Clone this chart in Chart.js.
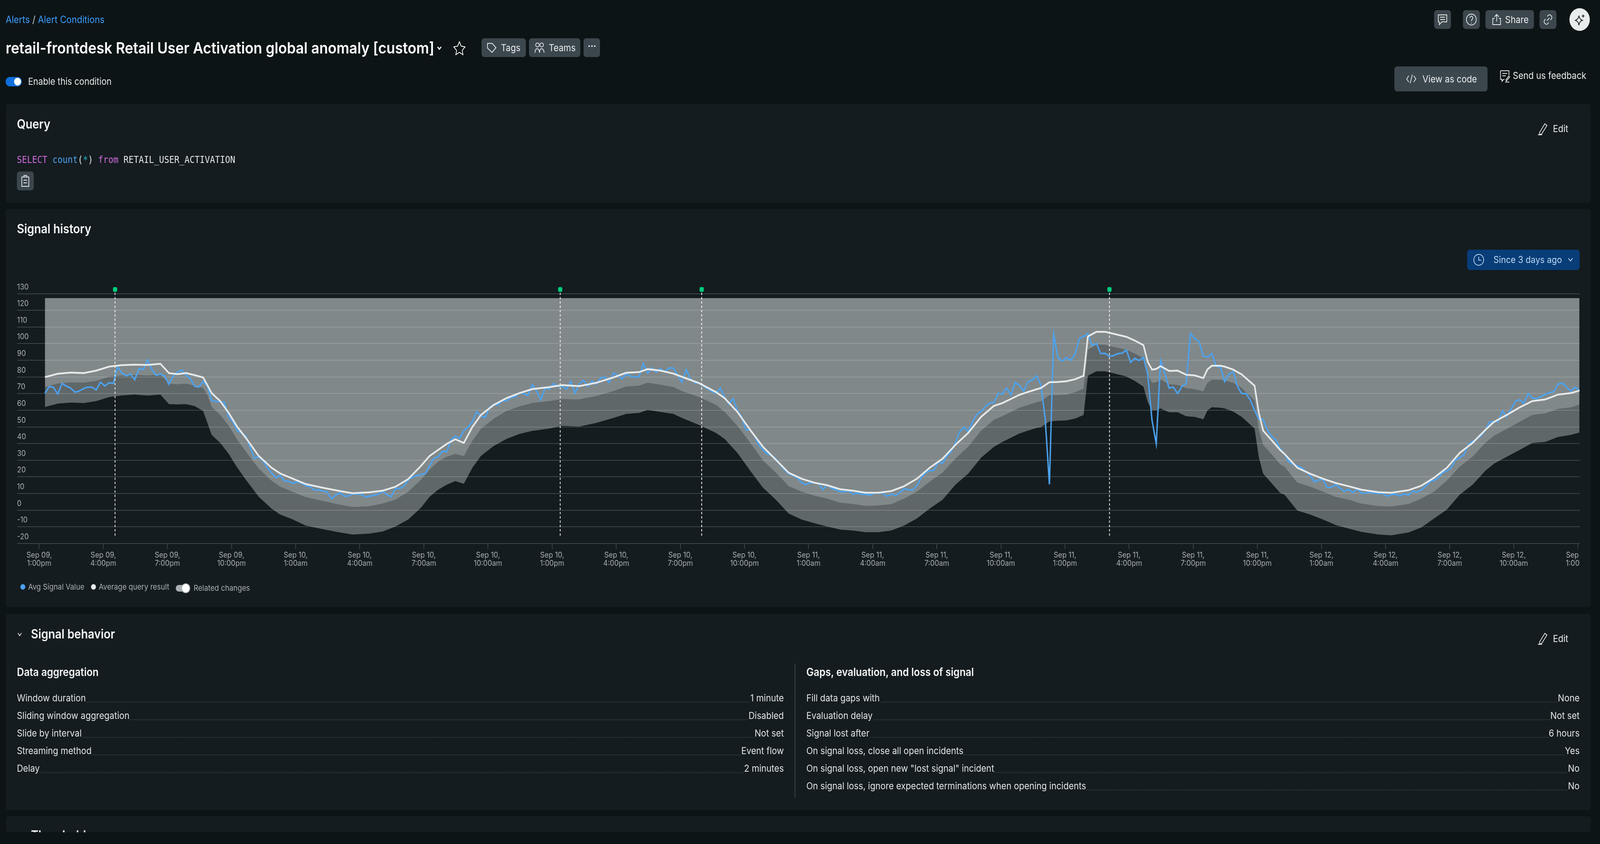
<!DOCTYPE html>
<html>
<head>
<meta charset="utf-8">
<title>Signal history</title>
<script src="https://cdn.jsdelivr.net/npm/chart.js@4"></script>
<style>
html, body { margin: 0; padding: 0; width: 100%; height: 100%; overflow: hidden; background: #0d1415; font-family: Inter, sans-serif; color: #e4e7e8; }
#stage { position: absolute; left: 0; top: 0; width: 4552px; height: 2160px; transform-origin: 0 0; }
.a { position: absolute; white-space: nowrap; line-height: 1; }
.panel { position: absolute; left: 16px; width: 4510px; background: #141c1f; border-radius: 8px; overflow: hidden; }
.btn { position: absolute; background: #3c474d; border-radius: 8px; }
.h { font-weight: 600; color: #f5f6f6; }
.row { position: absolute; display: flex; align-items: baseline; font-size: 24.5px; color: #dfe3e4; line-height: 1; height: 26px; }
.row i { flex: 1; border-bottom: 2px dotted #3a4448; height: 19px; margin: 0 1px; transform: translateY(3px); }
svg { position: absolute; fill: none; stroke: currentColor; stroke-width: 2; }
</style>
</head>
<body>
<div id="stage">

<div class="a" style="left:16px;top:38px;font-size:25px;color:#3a9bfb">Alerts <span style="color:#c8cdcf">/</span> Alert Conditions</div>
<div class="a" style="left:16px;top:103px;font-size:40.2px;font-weight:600;color:#fff">retail-frontdesk Retail User Activation global anomaly [custom]</div>
<svg style="left:1241px;top:114px;color:#fff" width="18" height="18" viewBox="0 0 18 18"><path d="M4 6l5 6 5-6" stroke-width="3"/></svg>
<svg style="left:1288px;top:104px;color:#fff" width="38" height="38" viewBox="0 0 38 38"><path d="M19 3l5 11 11 2-8 9 2 11-10-6-10 6 2-11-8-9 11-2z"/></svg>

<div class="btn" style="left:1370px;top:98px;width:126px;height:48px"></div>
<svg style="left:1384px;top:107px;color:#e8ebec" width="30" height="30" viewBox="0 0 30 30"><path d="M3 4h13l11 11-11 12L3 16z"/></svg>
<div class="a" style="left:1425px;top:110px;font-size:24.5px;color:#e8ebec">Tags</div>
<div class="btn" style="left:1505px;top:98px;width:146px;height:48px"></div>
<svg style="left:1519px;top:107px;color:#e8ebec" width="32" height="30" viewBox="0 0 32 30"><circle cx="10" cy="8" r="5"/><circle cx="22" cy="8" r="5"/><path d="M3 28c0-14 12-14 13 0M16 28c0-14 12-14 13 0"/></svg>
<div class="a" style="left:1561px;top:110px;font-size:24.5px;color:#e8ebec">Teams</div>
<div class="btn" style="left:1660px;top:98px;width:47px;height:48px"></div>
<div class="a" style="left:1672px;top:106px;font-size:24px;color:#e8ebec;font-weight:700">···</div>

<div class="a" style="left:16px;top:197px;width:46px;height:24px;border-radius:12px;background:#0f6fdc"></div>
<div class="a" style="left:40px;top:199px;width:20px;height:20px;border-radius:10px;background:#fff"></div>
<div class="a" style="left:80px;top:197px;font-size:24.2px;color:#e4e7e8">Enable this condition</div>

<div class="btn" style="left:4080px;top:26px;width:48px;height:48px"></div>
<svg style="left:4089px;top:35px;color:#e8ebec" width="30" height="30" viewBox="0 0 30 30"><path d="M3 3h24v18H13l-7 7v-7H3zM8 9h14M8 15h14"/></svg>
<div class="btn" style="left:4162px;top:26px;width:48px;height:48px"></div>
<svg style="left:4170px;top:34px;color:#e8ebec" width="32" height="32" viewBox="0 0 32 32"><circle cx="16" cy="16" r="14"/><path d="M12 12c0-6 8-6 8 0 0 4-4 4-4 8M16 24v2"/></svg>
<div class="btn" style="left:4226px;top:26px;width:138px;height:48px"></div>
<svg style="left:4244px;top:35px;color:#e8ebec" width="28" height="30" viewBox="0 0 28 30"><path d="M8 12H3v16h22V12h-5M14 20V2M8 8l6-6 6 6"/></svg>
<div class="a" style="left:4282px;top:38px;font-size:24.5px;color:#e8ebec">Share</div>
<div class="btn" style="left:4380px;top:26px;width:48px;height:48px"></div>
<svg style="left:4389px;top:35px;color:#e8ebec" width="30" height="30" viewBox="0 0 30 30"><path d="M12 18l7-7M13 7l3-3c5-4 13 4 9 9l-3 3M17 23l-3 3c-5 4-13-4-9-9l3-3"/></svg>
<div class="a" style="left:4465px;top:21px;width:58px;height:58px;border-radius:29px;background:#e8eced"></div>
<svg style="left:4478px;top:35px;color:#141c1f" width="32" height="32" viewBox="0 0 32 32"><path d="M14 5c1 7 4 10 10 12-6 2-9 5-10 13-1-8-4-11-10-13 6-2 9-5 10-12zM26 2v8M22 6h8"/></svg>

<div class="btn" style="left:3967px;top:170px;width:265px;height:64px"></div>
<svg style="left:4000px;top:188px;color:#e8ebec" width="30" height="28" viewBox="0 0 30 28"><path d="M8 6L2 14l6 8M22 6l6 8-6 8M18 3l-6 22"/></svg>
<div class="a" style="left:4047px;top:190px;font-size:24.5px;color:#e8ebec">View as code</div>
<svg style="left:4266px;top:179px;color:#e8ebec" width="32" height="32" viewBox="0 0 32 32"><path d="M3 2h24v12M3 2v22h4v5l5-5h2M8 9h14M8 15h10M20 28l9-10-3-2-8 10zM16 31h12"/></svg>
<div class="a" style="left:4304px;top:181px;font-size:24.5px;color:#e8ebec">Send us feedback</div>

<!-- Query -->
<div class="panel" style="top:266px;height:253px"></div>
<div class="a h" style="left:48px;top:302px;font-size:32px">Query</div>
<div class="a" style="left:48px;top:397px;font-family:'DejaVu Sans Mono',monospace;font-size:24px;color:#e4e7e8"><span style="color:#d36be0">SELECT</span> <span style="color:#4ca3f0">count</span>(<span style="color:#1fb7c2">*</span>) <span style="color:#d36be0">from</span> RETAIL_USER_ACTIVATION</div>
<div class="btn" style="left:48px;top:439px;width:48px;height:48px"></div>
<svg style="left:58px;top:447px;color:#e8ebec" width="28" height="32" viewBox="0 0 28 32"><path d="M4 6h20v24H4zM10 6V2h8v4M9 14h10M9 21h10"/></svg>
<svg style="left:4375px;top:314px;color:#e8ebec" width="30" height="32" viewBox="0 0 30 32"><path d="M5 25L20 3l6 4-15 22-6 1zM0 31h12"/></svg>
<div class="a" style="left:4418px;top:317px;font-size:24.5px;color:#e8ebec">Edit</div>

<!-- Signal history -->
<div class="panel" style="top:535px;height:1018px"></div>
<div class="a h" style="left:48px;top:570px;font-size:32px">Signal history</div>
<div class="btn" style="left:4174px;top:639px;width:320px;height:52px;background:#083d78"></div>
<svg style="left:4191px;top:649px;color:#b9d6f2" width="32" height="32" viewBox="0 0 32 32"><circle cx="16" cy="16" r="14"/><path d="M16 8v9h7"/></svg>
<div class="a" style="left:4249px;top:653px;font-size:24px;color:#b9d6f2">Since 3 days ago</div>
<svg style="left:4460px;top:658px;color:#b9d6f2" width="16" height="14" viewBox="0 0 16 14"><path d="M2 3l6 7 6-7"/></svg>

<canvas id="signalChart" width="4494" height="781" style="position:absolute;left:0;top:700px;width:4494px;height:781px"></canvas>

<div class="a" style="left:58px;top:1495px;width:14px;height:14px;border-radius:7px;background:#4ca3f0"></div>
<div class="a" style="left:80px;top:1492px;font-size:20.4px;color:#a9afb2">Avg Signal Value</div>
<div class="a" style="left:259px;top:1495px;width:14px;height:14px;border-radius:7px;background:#e8eced"></div>
<div class="a" style="left:281px;top:1492px;font-size:20.4px;color:#a9afb2">Average query result</div>
<div class="a" style="left:500px;top:1497px;width:30px;height:17px;border-radius:9px;background:#a9afb2"></div>
<div class="a" style="left:516px;top:1493px;width:21px;height:21px;border-radius:12px;background:#fff;border:2px solid #a9afb2"></div>
<div class="a" style="left:551px;top:1495px;font-size:20.4px;color:#a9afb2">Related changes</div>

<!-- Signal behavior -->
<div class="panel" style="top:1571px;height:502px"></div>
<svg style="left:48px;top:1618px;color:#e8ebec" width="16" height="12" viewBox="0 0 16 12"><path d="M3 2l5 7 5-7"/></svg>
<div class="a h" style="left:88px;top:1607px;font-size:32px">Signal behavior</div>
<svg style="left:4375px;top:1618px;color:#e8ebec" width="30" height="32" viewBox="0 0 30 32"><path d="M5 25L20 3l6 4-15 22-6 1zM0 31h12"/></svg>
<div class="a" style="left:4418px;top:1622px;font-size:24.5px;color:#e8ebec">Edit</div>
<div class="a h" style="left:48px;top:1706px;font-size:28px">Data aggregation</div>
<div class="a h" style="left:2294px;top:1706px;font-size:28px">Gaps, evaluation, and loss of signal</div>
<div class="a" style="left:2261px;top:1698px;width:2px;height:343px;background:#3c474d"></div>
<div id="rows"></div>

<div class="panel" style="top:2089px;height:41px"><div class="a h" style="left:72px;top:33px;font-size:32px">Thresholds</div></div>

</div>
<script>
// the window can come out narrower than the 4552 wide layout, so squeeze it to fit
document.getElementById('stage').style.transform = 'scaleX(' + (window.innerWidth / 4552) + ')';

// hours after Sep 09, 1:00pm
const tickHours = [0, 3, 6, 9, 12, 15, 18, 21, 24, 27, 30, 33, 36, 39, 42, 45, 48, 51, 54, 57, 60, 63, 66, 69, 72];
const tickDays = ['Sep 09,', 'Sep 09,', 'Sep 09,', 'Sep 09,', 'Sep 10,', 'Sep 10,', 'Sep 10,', 'Sep 10,', 'Sep 10,', 'Sep 10,', 'Sep 10,', 'Sep 10,',
    'Sep 11,', 'Sep 11,', 'Sep 11,', 'Sep 11,', 'Sep 11,', 'Sep 11,', 'Sep 11,', 'Sep 11,', 'Sep 12,', 'Sep 12,', 'Sep 12,', 'Sep 12,', 'Sep 12,'];
const tickTimes = ['1:00pm', '4:00pm', '7:00pm', '10:00pm', '1:00am', '4:00am', '7:00am', '10:00am'];
const yTicks = [-20, -10, 0, 10, 20, 30, 40, 50, 60, 70, 80, 90, 100, 110, 120, 130];

// Avg Signal Value, one point every 12 minutes
const firstHour = 0.27;
const stepHours = 0.2;
const signalValues = [
    70.3,74.2,73.7,69.7,76.1,74.5,73.3,70.9,71.5,73,73.9,73.8,72.2,76.9,74.6,76.5,76.1,86.1,82.3,80.7,
    81.7,78.3,85,84.4,90.3,84.4,81,81.7,80.6,75.6,80.5,82.9,84.1,81.1,79.1,74.4,73.9,77.3,74.5,65.9,
    65.3,65,64.7,55.7,53,47.6,46.4,44.5,37.8,31.1,32.1,29.7,25.5,22.5,19.5,20.9,17.7,17.3,16.1,17.1,
    16.3,14.7,14.3,12.1,12.3,11.4,11,6.9,9,10.4,8.5,8.5,9.9,9.7,9.6,7.9,8.5,8.9,9.6,11.5,
    9.3,8.1,13.2,13,14.5,18.3,19.9,20.7,21.4,22,26.7,31.2,32.1,35.4,35.1,42.2,44.6,43,47.6,50,
    53,59,56.6,55.7,61.7,63.5,63.2,65.8,65.6,67.7,68,70.6,69.9,68.9,75.4,
    71.5,66.2,73.3,72.7,76.1,74.3,74.3,72.7,77.3,70.3,75.7,78.1,74.3,77.5,75.7,79.3,79.9,76.7,82.3,81.1,
    78.9,81.7,80.5,79.9,80.2,88,82.3,85.3,82.9,85,82.9,85.3,85.3,81.1,76.9,84.4,78.9,76.5,76.3,74.5,
    73,71.5,70.1,73.3,67.9,63.7,67,59.6,56,48.2,48.2,44.6,39.2,36.2,33.8,33,30.9,27.3,24.3,21.9,
    20.9,19.5,16.7,15.3,16.5,16.5,15.9,12.3,15.3,13.2,12.3,11.1,11.1,11.7,9.6,10.3,9.6,9.6,9,10.2,
    10.3,10.3,8.4,9.7,8.7,10.5,12.9,12.3,12.1,14.7,19.5,22.5,23.7,23.9,29.1,28.2,32.6,35.1,40.4,47,
    50,47,53,57.4,59.2,62.2,64.3,64.6,70.1,
    69.7,73.4,69.1,76.8,74.8,71.5,77.2,78.1,80.7,75.2,55.3,15.5,105.7,91.6,89.5,91.6,90,93.7,103.1,104.3,
    106.1,98.8,100.1,94,94.2,92.4,92.8,94,94.2,96.2,88.7,91.2,89.8,91.8,81.5,54.1,39.8,90,82.2,73.3,
    73.9,70,74.3,76,106.3,103,101.2,92.6,91.9,94,86.5,85.8,77.2,81.6,83.1,74.2,70,70,66.2,60,
    54.6,54.5,48.1,44.3,42.1,36.9,
    33.8,29.1,27.6,26.7,25.5,23.4,20.7,17.1,18.1,18.5,13.6,13.9,15.3,13.3,11.4,12.6,10.5,12.9,10.2,10.3,
    10.8,10.3,10,10,8.4,9.3,9.6,8.5,9.9,9,11.5,10.9,12.1,14.3,17.1,17.9,19.5,22.5,23.7,25.5,
    30.3,31.5,33.3,39.2,41.4,42.8,44.6,48.2,53,53,53.3,59.6,56.2,60.8,65.3,66.3,64.3,70,67.3,67,
    68.2,69.5,70.6,71.2,75.7,76.3,73.9,71.5,73.9,72.1
];

// the smooth series are read at these signal points only
const smoothSteps = [
    0,3,6,9,12,15,18,21,24,27,
    29,31,33,35,37,38,39,41,43,45,
    47,50,53,55,58,61,65,69,72,76,
    79,82,85,88,90,92,94,96,98,100,
    102,105,108,111,114,118,121,125,129,133,
    136,139,141,144,147,149,153,157,159,162,
    165,168,171,174,177,180,183,186,189,192,
    195,198,201,204,207,210,213,216,219,222,
    224,226,228,230,232,233,235,237,239,241,
    243,244,246,248,250,253,255,257,258,259,
    260,261,263,265,267,269,271,272,273,275,
    276,278,280,283,284,285,287,289,290,293,
    296,299,302,305,308,312,315,319,322,325,
    328,331,334,337,339,342,345,348,351,354,
    357,359
];
const averageResult = [
    79.9,81.9,82.6,82.3,83.8,86.2,87.1,87.4,87.2,87.9,
    82.3,81.7,82.3,81.1,79.7,75.1,70.3,65.5,58.4,50,
    43.4,32.6,25.5,22.1,18.9,15.7,13.5,11.5,10.2,10.8,
    11.7,14.1,18.7,26.7,32.6,36.2,39.8,42.6,40.4,50,
    57.2,63.2,67.3,70.3,72.7,73.9,75.1,74.5,76.5,79.7,
    82.5,82.9,84.7,83.8,82,80.1,76.3,70.9,67.3,59,
    48.2,38,30.3,22.5,18.9,16.5,15,12.6,11.7,10.5,
    10.5,11.5,14.4,18.9,25.5,30.9,39.2,46.4,56,62.6,
    64.3,66.8,69.3,71,72.6,73.3,76.8,77,77.4,78.6,
    80.7,104.3,107.1,107.1,105.9,104.1,101.8,99.1,89.1,84.4,
    84.8,86.5,83.6,83.8,81.3,80.9,79.3,84.6,86.7,86.7,
    86.2,84.4,81.5,74.7,58.4,47.8,42,36.1,33.8,25.5,
    21.9,18.9,16.3,14.4,12.3,10.8,10.5,12,14.7,19.5,
    25.5,34.4,40.4,48.2,53,57.2,61.7,65.5,66.5,69.4,
    70.3,71.8
];
const warningLower = [
    73.9,76,76.7,76.5,77.5,80.1,80.8,81.1,80.8,81.3,
    76,75.5,76,74.7,73.3,69.1,62,57.2,50.6,42.2,
    35.1,24.9,17.7,14.1,10.9,7.8,5.5,3.3,1.9,2.4,
    4,6.3,11.1,18.3,24.3,29.1,32.1,33.8,32.4,41.6,
    48.8,54.8,59.6,62.2,64.3,65.5,66.7,66.5,68.5,71.5,
    74.2,74.7,76.5,75.3,73.9,71.5,67.9,63.2,59,50.6,
    40.4,29.7,22.5,14.4,11.1,8.7,6.9,4.5,3.7,2.5,
    2.8,3.6,6.9,11.1,17.1,22.5,30.9,38,47.6,54.2,
    56.4,58.9,61.5,63.1,64.8,65.4,69,69.1,69.3,70.8,
    72.9,96.3,99.3,99.3,98,96.3,94,91.2,81.1,76.4,
    76.8,78.3,75.6,75.2,73.3,72.6,71.3,76.4,78.3,78.3,
    77.9,76.4,73.3,65.8,48.2,39.2,33.4,27.5,26.1,16.5,
    14.1,11.1,7.9,6.3,3.9,2.4,2.2,3.7,6.9,11.1,
    17.7,26.1,32.1,40.4,44.6,48.8,53,57.2,58.1,60.8,
    61.7,63.4
];
const criticalLower = [
    62,64,64.6,64.3,65.5,67.9,68.9,69.4,68.8,69.4,
    63.7,63.5,63.7,62.5,59.6,52.4,45.2,40.4,33.8,25.5,
    18.3,8.1,1,-2.6,-5.6,-9.2,-11.4,-13.4,-14.6,-14,
    -12.8,-9.8,-5.6,1.6,8.1,12.3,15.3,17.5,15.9,25.5,
    32.6,38.6,42.8,45.8,47.6,49,50.6,50.2,52.4,55.4,
    57.8,58.4,60.2,59,57.8,55.4,51.2,46.4,42.8,34.4,
    23.7,13.5,6.3,-2,-5.6,-7.8,-9.8,-11.6,-12.2,-13.2,
    -13.2,-12.2,-9.2,-5,1,6.3,15.3,21.9,31.5,38,
    41,43.5,46.1,47.8,49.4,49.8,53.3,53.7,53.9,55,
    57.2,80.7,83.4,83.4,82.2,80.3,77.6,74.2,65,60,
    60,61.1,58.8,58.8,56.4,56,54.6,60,61.8,61.5,
    61.1,59.2,56,49,31.8,22,16.2,10.3,9.3,-0.2,
    -2.6,-5.6,-8.9,-11,-13,-14.6,-15.1,-13.4,-10.4,-5,
    0.4,9.3,15.3,23.7,27.9,32.1,36.2,40.4,41,44,
    45.2,46.6
];
const upperLimit = 127.3;

// related changes
const changeHours = [3.55, 24.38, 31.0, 50.08];
const changeBottom = -15.3;
const changeTop = 132.5;

const aggregationRows = [
    ['Window duration', '1 minute'],
    ['Sliding window aggregation', 'Disabled'],
    ['Slide by interval', 'Not set'],
    ['Streaming method', 'Event flow'],
    ['Delay', '2 minutes']
];
const gapRows = [
    ['Fill data gaps with', 'None'],
    ['Evaluation delay', 'Not set'],
    ['Signal lost after', '6 hours'],
    ['On signal loss, close all open incidents', 'Yes'],
    ['On signal loss, open new "lost signal" incident', 'No'],
    ['On signal loss, ignore expected terminations when opening incidents', 'No']
];

function addRows(rows, left, right) {
    rows.forEach((r, i) => {
        const el = document.createElement('div');
        el.className = 'row';
        el.style.cssText = 'left:' + left + 'px;width:' + (right - left) + 'px;top:' + (1774 + i * 45) + 'px';
        el.innerHTML = '<span></span><i></i><span></span>';
        el.children[0].textContent = r[0];
        el.children[2].textContent = r[1];
        document.getElementById('rows').appendChild(el);
    });
}
addRows(aggregationRows, 48, 2230);
addRows(gapRows, 2294, 4494);

const hourOf = (step) => firstHour + step * stepHours;
const smoothPoints = (values) => smoothSteps.map((s, i) => ({x: hourOf(s), y: values[i]}));

const gridColor = '#3c4549';
const labelColor = '#a9afb2';

const config = {
    type: 'line',
    data: {
        datasets: [
            {
                label: 'Upper limit',
                data: smoothPoints(smoothSteps.map(() => upperLimit)),
                borderWidth: 0,
                pointRadius: 0,
                fill: 1,
                backgroundColor: 'rgba(238,244,244,0.5)',
                order: 5
            },
            {
                label: 'Warning lower bound',
                data: smoothPoints(warningLower),
                borderWidth: 0,
                pointRadius: 0,
                fill: 2,
                backgroundColor: 'rgba(238,244,244,0.35)',
                order: 4
            },
            {
                label: 'Critical lower bound',
                data: smoothPoints(criticalLower),
                borderWidth: 0,
                pointRadius: 0,
                fill: false,
                order: 3
            },
            {
                label: 'Avg Signal Value',
                data: signalValues.map((v, i) => ({x: hourOf(i), y: v})),
                borderColor: '#4ca3f0',
                borderWidth: 4,
                pointRadius: 0,
                fill: false,
                order: 2
            },
            {
                label: 'Average query result',
                data: smoothPoints(averageResult),
                borderColor: '#e8eaea',
                borderWidth: 4.5,
                pointRadius: 0,
                fill: false,
                order: 1
            }
        ].concat(changeHours.map((h) => ({
            label: 'Related change',
            data: [{x: h, y: changeBottom}, {x: h, y: changeTop}],
            borderColor: '#ffffff',
            borderWidth: 2,
            borderDash: [6, 5],
            pointRadius: [0, 7],
            pointStyle: 'rectRounded',
            pointBackgroundColor: '#00ce7c',
            pointBorderWidth: 0,
            fill: false,
            clip: false,
            order: 0
        })))
    },
    options: {
        responsive: false,
        animation: false,
        parsing: false,
        layout: {autoPadding: false, padding: {left: 48.5, top: 30.2, right: 0, bottom: 0}},
        plugins: {
            legend: {display: false},
            tooltip: {enabled: false}
        },
        scales: {
            x: {
                type: 'linear',
                min: -1.036,
                max: 72.08,
                afterBuildTicks: (axis) => { axis.ticks = tickHours.map((v) => ({value: v})); },
                afterFit: (axis) => { axis.height = 90; axis.paddingLeft = 0; axis.paddingRight = 0; },
                border: {display: false},
                grid: {drawOnChartArea: false, drawTicks: true, tickLength: 14, color: gridColor, lineWidth: 2},
                ticks: {
                    autoSkip: false,
                    maxRotation: 0,
                    padding: 6,
                    color: labelColor,
                    font: {family: 'Inter', size: 20, lineHeight: 1.03},
                    callback: (value, index) => [tickDays[index], tickTimes[index % tickTimes.length]]
                }
            },
            y: {
                type: 'linear',
                min: -20,
                max: 135,
                afterBuildTicks: (axis) => { axis.ticks = yTicks.map((v) => ({value: v})); },
                afterFit: (axis) => { axis.paddingTop = 0; axis.paddingBottom = 0; axis.width = 0; },
                border: {display: false},
                grid: {drawTicks: false, color: gridColor, lineWidth: 2},
                ticks: {
                    mirror: true,
                    padding: 0,
                    labelOffset: -17,
                    color: labelColor,
                    font: {family: 'Inter', size: 20}
                }
            }
        }
    }
};

const signalChart = new Chart(document.getElementById('signalChart').getContext('2d'), config);
</script>
</body>
</html>
